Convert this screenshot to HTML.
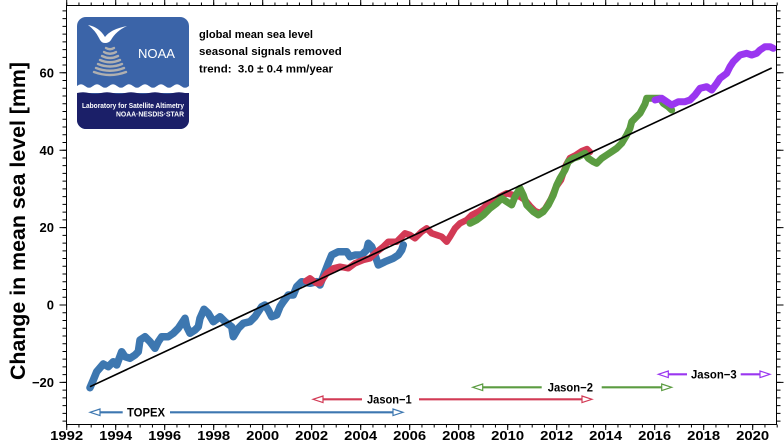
<!DOCTYPE html>
<html><head><meta charset="utf-8"><style>
html,body{margin:0;padding:0;background:#fff;}
svg{display:block;}
text{font-family:"Liberation Sans",Arial,sans-serif;}
</style></head><body>
<svg width="784" height="441" viewBox="0 0 784 441" xmlns="http://www.w3.org/2000/svg">
<rect width="784" height="441" fill="#fff"/>
<defs><clipPath id="lc"><rect x="77" y="17" width="112" height="112" rx="9" ry="9"/></clipPath></defs>

<!-- data series -->
<g fill="none" stroke-linejoin="round" stroke-linecap="round">
<polyline stroke="#3d77b0" stroke-width="7.5" points="90,387.7 93.3,380 96.7,371.7 103.3,364 108.3,366.7 113.3,361.7 116.7,365 121.7,351.7 125,356.7 130,358.3 135,355 138.3,351.7 140,340 145,336.7 150,341.7 155,348.3 158.3,341.7 161.7,336.7 168.3,336.7 173.3,333.3 178.3,328.3 185,318.3 186.7,326.7 190,333.3 195,330 198.3,326.7 200,318.3 204,309.3 208.3,313.3 213.3,321.7 220,316.7 225,321.7 231.7,326.7 233.3,336.7 238.3,328.3 243.3,323.3 250,321.7 255,316.7 261.7,306.7 265,305 268.3,310 271.7,316.7 276.7,315 280,306.7 283.3,301.7 288.3,295 293.3,295 296.7,286.7 301.7,281.7 310,283.3 316.7,281.7 320,285 325,271.7 328.3,263.3 331.7,255 338.3,251.7 346.7,251.7 350,256.7 355,255 361.7,255 366.7,250 368.3,243.3 371.7,246.7 375,255 378.3,265 385,261.7 393.3,258.3 398.3,255 401.7,250 403.3,245"/>
<polyline stroke="#d23a55" stroke-width="6.5" points="306,281 310,278.3 316,283 320,283.3 326.7,273.3 333.3,268.3 340,266.7 348.3,268.3 355,263.3 363.3,260 370,258.3 375,253.3 383.3,246.7 388.3,241.7 396.7,241.7 405,233.3 410,235 415,238.3 421.7,231.7 426.7,228.3 431.7,233.3 436.7,235 441.7,236.7 446.7,241.7 450,236.7 455,228.3 460,223.3 466.7,220 471.7,215 478.3,211.7 483.3,208.3 488.3,203.3 493.3,201.7 500,196.7 506.7,193.3 513.3,195 520,196.7 525,200 530,206 535,211 540,213 545,209 551,199 556,187 561,180 566,165 570,158 576,155 582,151 587,149 590,152"/>
<polyline stroke="#5b9c41" stroke-width="7" points="470,223.3 476.7,220 483.3,215 490,208.3 496.7,203.3 501.7,198.3 506.7,201.7 511.7,205 515,196.7 520,188.3 523.3,195 526.7,205 533.3,211.7 538.3,215 543.3,211.7 548.3,205 553.3,195 556.7,185 560,178.3 565,170 568.3,161.7 573.3,158.3 578.3,156.7 585,153.3 588.3,158.3 593.3,161.7 596.7,163.3 601.7,158.3 606.7,155 611.7,151.7 616.7,148.3 621.7,143.3 626.7,135 630,128.3 631.7,121.7 635,118.3 640,113.3 645,104 646.7,98.3 653.3,98.3 660,98.3 663.3,103.3 668.3,106.7 671.7,110"/>
<polyline stroke="#9a36f0" stroke-width="7" points="655,100 661.7,98.3 666.7,101.7 671.7,105 678.3,101.7 685,101.7 690,100 695,95 700,88.3 706.7,86.7 711.7,90 716.7,83.3 720,78.3 726.7,73.3 730,66.7 733.3,61.7 740,55 746.7,53.3 751.7,55 756.7,53.3 760,50 765,46.7 770,46.7 773.3,48.3"/>
</g>
<!-- trend line -->
<line x1="90" y1="386.7" x2="771.7" y2="68" stroke="#000" stroke-width="1.6"/>

<!-- axes frame -->
<rect x="66.5" y="5.5" width="710" height="419" fill="none" stroke="#000" stroke-width="1"/>
<!-- minor ticks -->
<g stroke="#000" fill="none">
<line x1="66.2" y1="426" x2="777.7" y2="426" stroke-width="3" stroke-dasharray="1 11.25"/>
<line x1="66.2" y1="4" x2="777.7" y2="4" stroke-width="3" stroke-dasharray="1 11.25"/>
<line x1="64.5" y1="421.6" x2="64.5" y2="5.5" stroke-width="4" stroke-dasharray="1 6.74"/>
<line x1="778.5" y1="421.6" x2="778.5" y2="5.5" stroke-width="4" stroke-dasharray="1 6.74"/>
<!-- major x ticks -->
<line x1="66.2" y1="427" x2="754" y2="427" stroke-width="6" stroke-dasharray="1 48"/>
<line x1="66.2" y1="2.5" x2="754" y2="2.5" stroke-width="6" stroke-dasharray="1 48"/>
<!-- major y ticks -->
<line x1="63" y1="382.9" x2="63" y2="72" stroke-width="7" stroke-dasharray="1 76.4"/>
<line x1="780" y1="382.9" x2="780" y2="72" stroke-width="7" stroke-dasharray="1 76.4"/>
</g>

<!-- x labels -->
<g font-size="13" font-weight="bold" text-anchor="middle" fill="#000">
<text x="66.7" y="440" textLength="33" lengthAdjust="spacingAndGlyphs">1992</text>
<text x="115.7" y="440" textLength="33" lengthAdjust="spacingAndGlyphs">1994</text>
<text x="164.7" y="440" textLength="33" lengthAdjust="spacingAndGlyphs">1996</text>
<text x="213.7" y="440" textLength="33" lengthAdjust="spacingAndGlyphs">1998</text>
<text x="262.7" y="440" textLength="33" lengthAdjust="spacingAndGlyphs">2000</text>
<text x="311.7" y="440" textLength="33" lengthAdjust="spacingAndGlyphs">2002</text>
<text x="360.7" y="440" textLength="33" lengthAdjust="spacingAndGlyphs">2004</text>
<text x="409.7" y="440" textLength="33" lengthAdjust="spacingAndGlyphs">2006</text>
<text x="458.7" y="440" textLength="33" lengthAdjust="spacingAndGlyphs">2008</text>
<text x="507.7" y="440" textLength="33" lengthAdjust="spacingAndGlyphs">2010</text>
<text x="556.7" y="440" textLength="33" lengthAdjust="spacingAndGlyphs">2012</text>
<text x="605.7" y="440" textLength="33" lengthAdjust="spacingAndGlyphs">2014</text>
<text x="654.7" y="440" textLength="33" lengthAdjust="spacingAndGlyphs">2016</text>
<text x="703.7" y="440" textLength="33" lengthAdjust="spacingAndGlyphs">2018</text>
<text x="752.7" y="440" textLength="33" lengthAdjust="spacingAndGlyphs">2020</text>
</g>
<!-- y labels -->
<g font-size="13" font-weight="bold" text-anchor="end" fill="#000">
<text x="54" y="387">−20</text>
<text x="54" y="309.6">0</text>
<text x="54" y="232.2">20</text>
<text x="54" y="154.8">40</text>
<text x="54" y="77.4">60</text>
</g>
<!-- y title -->
<text transform="translate(25,221) rotate(-90)" font-size="21.5" font-weight="bold" text-anchor="middle" textLength="318" lengthAdjust="spacingAndGlyphs">Change in mean sea level [mm]</text>

<!-- legend text -->
<g font-size="11" font-weight="bold" fill="#000">
<text x="199" y="37.8" textLength="114" lengthAdjust="spacingAndGlyphs">global mean sea level</text>
<text x="199" y="55.2" textLength="142.7" lengthAdjust="spacingAndGlyphs">seasonal signals removed</text>
<text x="199" y="72.7" textLength="134" lengthAdjust="spacingAndGlyphs" xml:space="preserve">trend:  3.0 ± 0.4 mm/year</text>
</g>

<!-- mission arrows -->
<g stroke-width="2.2" fill="#fff">
<line x1="100" y1="412.3" x2="122.7" y2="412.3" stroke="#3d77b0"/>
<line x1="170" y1="412.3" x2="393" y2="412.3" stroke="#3d77b0"/>
<polygon points="90,412.3 100,409 100,415.6" stroke="#3d77b0" stroke-width="1.2"/>
<polygon points="403,412.3 393,409 393,415.6" stroke="#3d77b0" stroke-width="1.2"/>

<line x1="323" y1="399.3" x2="362" y2="399.3" stroke="#d23a55"/>
<line x1="419" y1="399.3" x2="582" y2="399.3" stroke="#d23a55"/>
<polygon points="313,399.3 323,396 323,402.6" stroke="#d23a55" stroke-width="1.2"/>
<polygon points="592,399.3 582,396 582,402.6" stroke="#d23a55" stroke-width="1.2"/>

<line x1="482.7" y1="387.3" x2="541.7" y2="387.3" stroke="#5b9c41"/>
<line x1="601.7" y1="387.3" x2="661.7" y2="387.3" stroke="#5b9c41"/>
<polygon points="472.7,387.3 482.7,384 482.7,390.6" stroke="#5b9c41" stroke-width="1.2"/>
<polygon points="671.7,387.3 661.7,384 661.7,390.6" stroke="#5b9c41" stroke-width="1.2"/>

<line x1="668.3" y1="374.3" x2="687" y2="374.3" stroke="#9a36f0"/>
<line x1="740.7" y1="374.3" x2="760" y2="374.3" stroke="#9a36f0"/>
<polygon points="658.3,374.3 668.3,371 668.3,377.6" stroke="#9a36f0" stroke-width="1.2"/>
<polygon points="770,374.3 760,371 760,377.6" stroke="#9a36f0" stroke-width="1.2"/>
</g>
<g font-size="12" font-weight="bold" fill="#000">
<text x="127" y="416.6" textLength="38" lengthAdjust="spacingAndGlyphs">TOPEX</text>
<text x="367" y="403.6" textLength="44.7" lengthAdjust="spacingAndGlyphs">Jason−1</text>
<text x="547.7" y="391.6" textLength="45.3" lengthAdjust="spacingAndGlyphs">Jason−2</text>
<text x="691" y="378.6" textLength="45.7" lengthAdjust="spacingAndGlyphs">Jason−3</text>
</g>

<!-- NOAA logo -->
<g clip-path="url(#lc)">
<rect x="77" y="17" width="112" height="112" fill="#3b64a8"/>
<path d="M77,86 Q81,82.5 85,86 T93,86 T101,86 T109,86 T117,86 T125,86 T133,86 T141,86 T149,86 T157,86 T165,86 T173,86 T181,86 T189,86 L189,93 L77,93 Z" fill="#fff"/>
<path d="M77,93 Q83,91.5 89,93 T101,93 T113,93 T125,93 T137,93 T149,93 T161,93 T173,93 T185,93 L189,93 L189,129 L77,129 Z" fill="#1b1f68"/>
</g>
<path d="M88,25 Q99,27 105,37 Q111,29 127,26 Q116,31 111,40 Q109,43 105,43 Q101,43 99,38 Q95,30 88,25 Z" fill="#fff"/>
<g fill="none" stroke="#b0b0b0" stroke-width="2.4" stroke-linecap="round">
<path d="M106,48 Q110,50.5 114,48"/>
<path d="M104,52 Q110,55.5 116,52"/>
<path d="M102,56 Q110,60 118,56"/>
<path d="M100,60 Q110,64.5 120,60"/>
<path d="M98,64 Q110,69 122,64"/>
<path d="M96,68 Q110,73.5 124,68"/>
<path d="M94,72 Q110,78 126,72"/>
</g>
<text x="138" y="58" font-size="13" fill="#fff" textLength="37" lengthAdjust="spacingAndGlyphs">NOAA</text>
<text x="184" y="108" font-size="7" font-weight="bold" fill="#fff" text-anchor="end" textLength="102" lengthAdjust="spacingAndGlyphs">Laboratory for Satellite Altimetry</text>
<text x="184" y="116.5" font-size="7" font-weight="bold" fill="#fff" text-anchor="end" textLength="68" lengthAdjust="spacingAndGlyphs">NOAA·NESDIS·STAR</text>
</svg>
</body></html>
